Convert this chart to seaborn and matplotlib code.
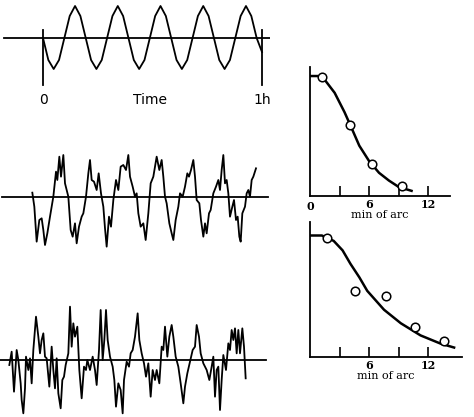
import numpy as np
import pandas as pd
import matplotlib
matplotlib.use("Agg")
from matplotlib import pyplot as plt
import seaborn as sn

# top trace: regular oscillation, samples every 1/8 cycle (image px, y up from baseline)
sine_x = np.linspace(43, 262, 42)
sine_y = [0, -22, -31, -22, 0, 22, 32, 22,
          0, -22, -31, -22, 0, 22, 32, 22,
          0, -22, -31, -22, 0, 22, 32, 22,
          0, -22, -31, -22, 0, 22, 32, 22,
          0, -22, -31, -22, 0, 22, 32, 22,
          0, -14]

# middle trace (noisy oscillation)
mid_pts = [(97,158),(103,200),(110,305),(118,240),(125,235),(130,270),(135,315),(142,280),(150,230),
           (160,170),(168,95),(172,120),(178,50),(183,110),(190,45),(195,130),(205,170),(212,270),
           (218,290),(225,250),(230,310),(237,260),(245,230),(250,220),(258,170),(265,100),(270,60),
           (275,120),(282,125),(290,150),(296,100),(303,160),(310,200),(315,265),(320,320),(327,230),
           (333,260),(340,180),(348,120),(355,150),(362,80),(370,75),(378,90),(385,45),(390,110),
           (398,140),(405,170),(410,160),(415,220),(422,260),(430,250),(437,300),(445,220),(452,130),
           (460,110),(465,80),(470,50),(478,90),(485,60),(490,110),(495,170),(500,190),(508,250),
           (515,280),(520,300),(527,240),(535,200),(540,160),(548,170),(555,140),(562,100),(567,110),
           (573,90),(580,60),(585,110),(590,180),(598,190),(603,240),(610,290),(615,250),(620,280),
           (627,220),(632,210),(640,160),(648,140),(655,120),(660,150),(665,90),(670,45),(675,130),
           (680,120),(685,160),(690,230),(697,200),(702,180),(708,240),(713,230),(718,290),(722,305),
           (727,220),(735,200),(740,160),(745,150),(750,170),(755,120),(760,110),(768,85)]

# bottom trace (mostly noise)
low_pts = [(28,285),(35,245),(42,365),(50,240),(55,270),(62,340),(65,390),(70,430),(75,355),(78,260),
           (85,300),(90,265),(95,340),(100,240),(108,140),(115,200),(120,250),(125,210),(130,190),
           (135,260),(140,265),(148,350),(155,230),(160,300),(165,355),(170,265),(175,370),(182,415),
           (187,330),(192,320),(197,285),(205,250),(210,110),(215,230),(220,160),(225,200),(232,170),
           (238,300),(245,385),(252,290),(258,300),(262,270),(270,300),(278,260),(285,300),(290,345),
           (297,240),(302,120),(308,270),(313,210),(318,120),(323,210),(330,260),(338,290),(343,330),
           (348,410),(355,340),(362,360),(368,430),(372,330),(380,275),(387,290),(392,250),(398,240),
           (405,200),(413,130),(418,210),(425,250),(432,280),(438,320),(445,280),(452,380),(458,300),
           (465,330),(470,300),(478,340),(485,230),(490,240),(495,170),(502,260),(508,200),(515,165),
           (520,200),(527,260),(535,290),(542,340),(550,400),(555,350),(562,310),(570,275),(578,240),
           (585,230),(590,165),(597,200),(602,250),(610,280),(615,290),(620,300),(628,330),(635,290),
           (640,260),(645,380),(650,300),(655,290),(660,420),(665,330),(670,255),(678,300),(685,220),
           (690,240),(695,180),(700,210),(705,175),(710,250),(715,180),(720,250),(727,175),(732,230),
           (737,325)]

# right panels: measured points and fitted curves (min of arc vs normalized response)
top_pts_x = [1.2, 4.1, 6.3, 9.3]
top_pts_y = [0.92, 0.55, 0.25, 0.08]
top_fit_x = [0, 0.8, 1.5, 2.5, 3.5, 4.2, 5, 6, 7, 8, 9, 10.3]
top_fit_y = [0.93, 0.93, 0.9, 0.8, 0.65, 0.53, 0.39, 0.27, 0.18, 0.12, 0.07, 0.04]
bot_pts_x = [1.7, 4.6, 7.7, 10.6, 13.6]
bot_pts_y = [0.88, 0.49, 0.45, 0.22, 0.12]
bot_fit_x = [0, 1.2, 2.4, 3.3, 4.1, 5, 5.8, 7.5, 9.2, 11.2, 13.2, 14.6]
bot_fit_y = [0.9, 0.9, 0.86, 0.79, 0.69, 0.59, 0.49, 0.35, 0.25, 0.16, 0.10, 0.07]

W, H = 474, 417
fig = plt.figure(figsize=(W / 100, H / 100), dpi=100)
serif = "DejaVu Serif"

# left: traces drawn in picture coordinates
ax = fig.add_axes([0, 0, 270 / W, 1])
ax.set_xlim(0, 270)
ax.set_ylim(-H, 0)
ax.axis("off")
lw = 1.3
sn.lineplot(x=sine_x, y=np.array(sine_y) - 38, sort=False, color="black", lw=lw, ax=ax)
ax.plot([4, 270], [-38, -38], color="black", lw=lw)
ax.plot([43, 43], [-30, -85], color="black", lw=lw)
ax.plot([262, 262], [-30, -85], color="black", lw=lw)
ax.text(43, -100, "0", ha="center", va="center", fontsize=10, family="DejaVu Sans")
ax.text(150, -100, "Time", ha="center", va="center", fontsize=10, family="DejaVu Sans")
ax.text(262, -100, "1h", ha="center", va="center", fontsize=10, family="DejaVu Sans")

mid = pd.DataFrame(mid_pts, columns=["zx", "zy"])
sn.lineplot(x=mid.zx / 3, y=-(mid.zy / 3 + 140), sort=False, color="black", lw=lw, ax=ax)
ax.plot([2, 268], [-197, -197], color="black", lw=lw)

low = pd.DataFrame(low_pts, columns=["zx", "zy"])
sn.lineplot(x=low.zx / 3, y=-(low.zy / 3 + 270), sort=False, color="black", lw=lw, ax=ax)
ax.plot([0, 266], [-360, -360], color="black", lw=lw)


def panel(rect, xmax, px, py, fx, fy, labels):
    a = fig.add_axes(rect)
    sn.lineplot(x=fx, y=fy, color="black", lw=1.8, ax=a)
    sn.scatterplot(x=px, y=py, s=38, facecolor="white", edgecolor="black", linewidth=1.1, zorder=3, ax=a)
    a.set_xlim(0, xmax)
    a.set_ylim(0, 1)
    for s in ["top", "right"]:
        a.spines[s].set_visible(False)
    for s in ["left", "bottom"]:
        a.spines[s].set_linewidth(1.3)
    a.set_yticks([])
    a.set_xticks([3, 6, 9, 12])
    a.set_xticklabels(labels, family=serif, fontsize=8, fontweight="bold")
    a.tick_params(axis="x", direction="in", length=7, width=1.2, pad=2)
    a.set_xlabel("min of arc", family=serif, fontsize=8, labelpad=0)
    return a


a1 = panel([310 / W, (H - 196) / H, 140 / W, 129 / H], 14.2,
           top_pts_x, top_pts_y, top_fit_x, top_fit_y, ["", "6", "", "12"])
a1.text(0, -0.035, "0", transform=a1.transAxes, ha="center", va="top", family=serif,
        fontsize=8, fontweight="bold")
panel([310 / W, (H - 357) / H, 152 / W, 135 / H], 15.4,
      bot_pts_x, bot_pts_y, bot_fit_x, bot_fit_y, ["", "6", "", "12"])

fig.savefig("out.png", dpi=100)
